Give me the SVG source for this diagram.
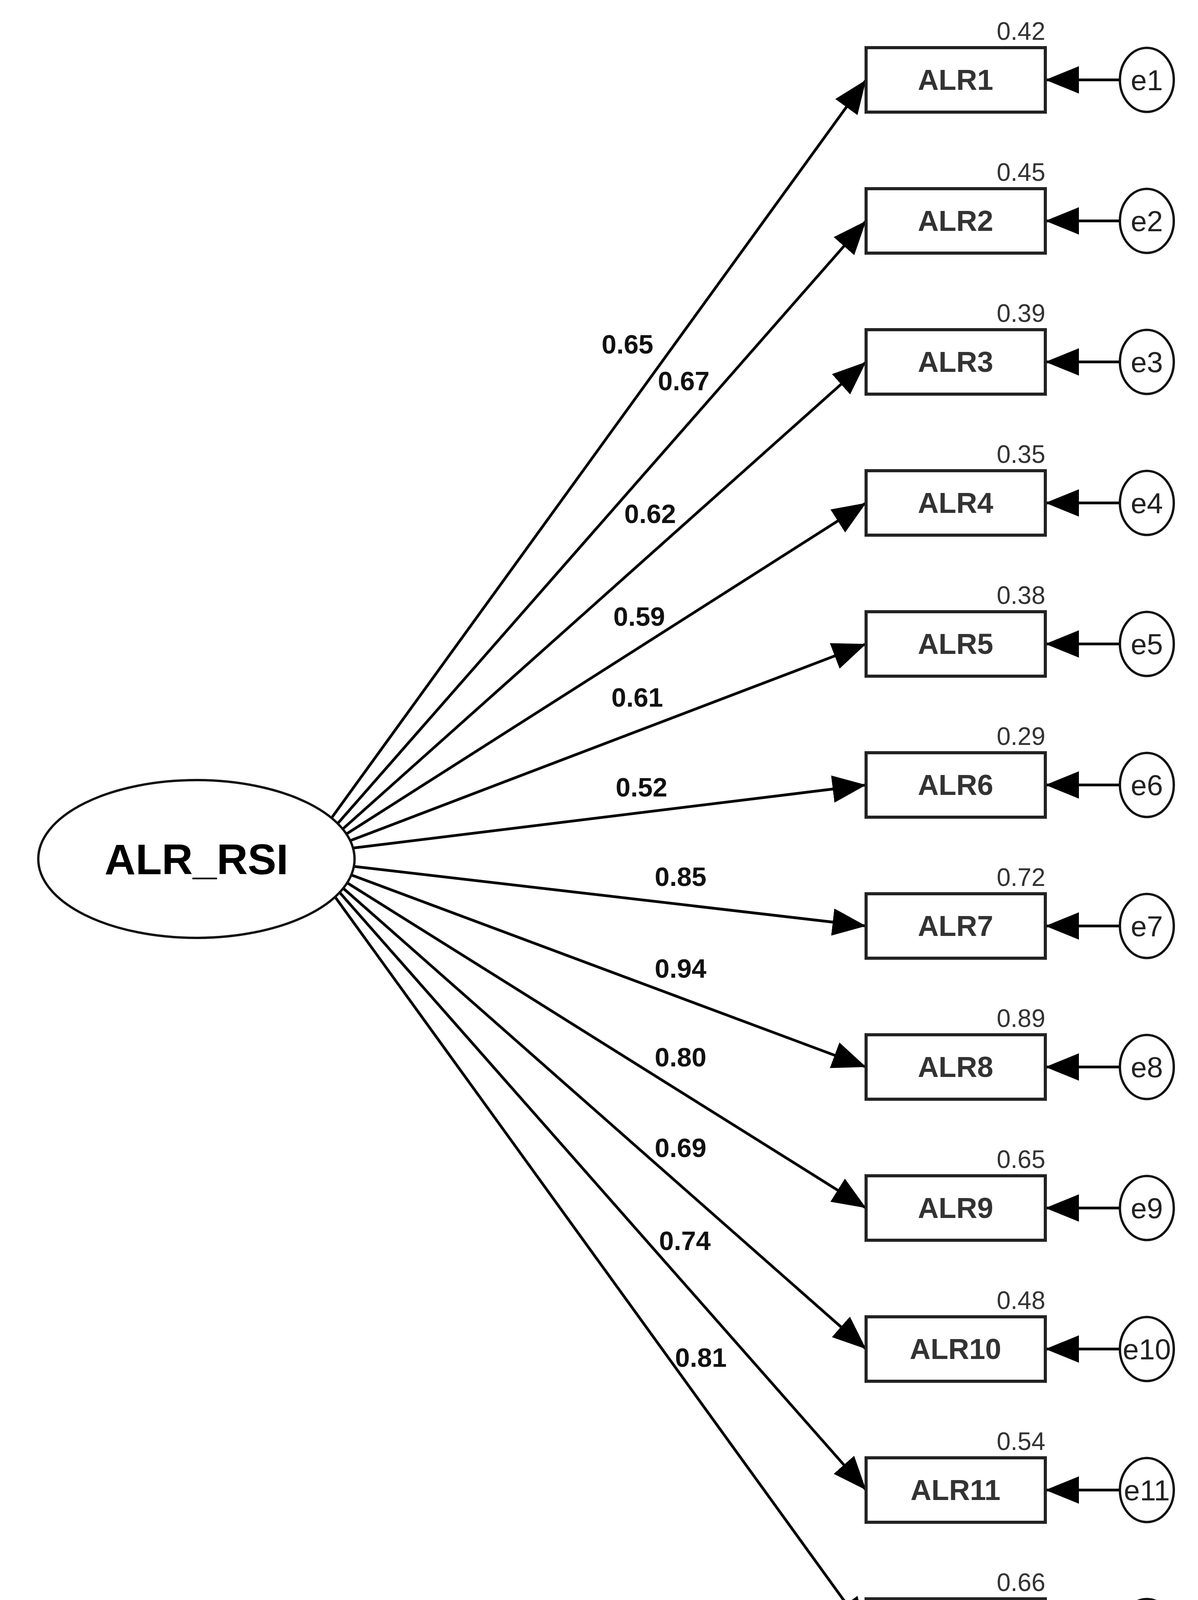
<svg xmlns="http://www.w3.org/2000/svg" width="3068" height="4297" viewBox="0 0 3068 4297">
<style>
.ln{stroke:#000;stroke-width:7;fill:none}
.bx{fill:#fff;stroke:#222;stroke-width:8}
.el{fill:#fff;stroke:#111;stroke-width:6}
.bt{font-family:"Liberation Sans",Arial,sans-serif;font-weight:bold;font-size:74px;fill:#333;text-anchor:middle}
.vt{font-family:"Liberation Sans",Arial,sans-serif;font-size:64px;fill:#333;text-anchor:end}
.et{font-family:"Liberation Sans",Arial,sans-serif;font-size:74px;fill:#222;text-anchor:middle}
.pt{font-family:"Liberation Sans",Arial,sans-serif;font-weight:bold;font-size:68px;fill:#111;text-anchor:middle}
</style>
<defs>
<marker id="ah" markerUnits="userSpaceOnUse" markerWidth="90" markerHeight="80" viewBox="0 0 90 80" refX="86" refY="40" orient="auto"><path d="M0,5 L86,40 L0,75 Z" fill="#000"/></marker>
</defs>
<g id="connectors">
<line class="ln" x1="849" y1="2094" x2="2218" y2="204.5" marker-end="url(#ah)"/>
<line class="ln" x1="865" y1="2108" x2="2218" y2="565.5" marker-end="url(#ah)"/>
<line class="ln" x1="878" y1="2122" x2="2218" y2="926.5" marker-end="url(#ah)"/>
<line class="ln" x1="887" y1="2135" x2="2218" y2="1287.5" marker-end="url(#ah)"/>
<line class="ln" x1="897" y1="2152" x2="2218" y2="1648.5" marker-end="url(#ah)"/>
<line class="ln" x1="904" y1="2171" x2="2218" y2="2009.5" marker-end="url(#ah)"/>
<line class="ln" x1="906" y1="2218" x2="2218" y2="2370.5" marker-end="url(#ah)"/>
<line class="ln" x1="900" y1="2240" x2="2218" y2="2731.5" marker-end="url(#ah)"/>
<line class="ln" x1="889" y1="2260" x2="2218" y2="3092.5" marker-end="url(#ah)"/>
<line class="ln" x1="879" y1="2274" x2="2218" y2="3453.5" marker-end="url(#ah)"/>
<line class="ln" x1="870" y1="2285" x2="2218" y2="3814.5" marker-end="url(#ah)"/>
<line class="ln" x1="858" y1="2296" x2="2218" y2="4175.5" marker-end="url(#ah)"/>
<line class="ln" x1="2868" y1="204.5" x2="2677" y2="204.5" marker-end="url(#ah)"/>
<line class="ln" x1="2868" y1="565.5" x2="2677" y2="565.5" marker-end="url(#ah)"/>
<line class="ln" x1="2868" y1="926.5" x2="2677" y2="926.5" marker-end="url(#ah)"/>
<line class="ln" x1="2868" y1="1287.5" x2="2677" y2="1287.5" marker-end="url(#ah)"/>
<line class="ln" x1="2868" y1="1648.5" x2="2677" y2="1648.5" marker-end="url(#ah)"/>
<line class="ln" x1="2868" y1="2009.5" x2="2677" y2="2009.5" marker-end="url(#ah)"/>
<line class="ln" x1="2868" y1="2370.5" x2="2677" y2="2370.5" marker-end="url(#ah)"/>
<line class="ln" x1="2868" y1="2731.5" x2="2677" y2="2731.5" marker-end="url(#ah)"/>
<line class="ln" x1="2868" y1="3092.5" x2="2677" y2="3092.5" marker-end="url(#ah)"/>
<line class="ln" x1="2868" y1="3453.5" x2="2677" y2="3453.5" marker-end="url(#ah)"/>
<line class="ln" x1="2868" y1="3814.5" x2="2677" y2="3814.5" marker-end="url(#ah)"/>
<line class="ln" x1="2868" y1="4175.5" x2="2677" y2="4175.5" marker-end="url(#ah)"/>
<text class="pt" x="1607" y="905">0.65</text>
<text class="pt" x="1751" y="999">0.67</text>
<text class="pt" x="1665" y="1339">0.62</text>
<text class="pt" x="1637" y="1602">0.59</text>
<text class="pt" x="1632" y="1809">0.61</text>
<text class="pt" x="1643" y="2039">0.52</text>
<text class="pt" x="1743" y="2268">0.85</text>
<text class="pt" x="1743" y="2503">0.94</text>
<text class="pt" x="1743" y="2730">0.80</text>
<text class="pt" x="1743" y="2962">0.69</text>
<text class="pt" x="1754" y="3200">0.74</text>
<text class="pt" x="1795" y="3499">0.81</text>
</g>
<g id="ALR_RSI"><ellipse class="el" cx="503" cy="2199" rx="405" ry="202"/><text x="503" y="2238" font-family="Liberation Sans,Arial,sans-serif" font-weight="bold" font-size="110" text-anchor="middle" fill="#000">ALR_RSI</text></g>
<g id="ALR1"><rect class="bx" x="2218" y="122" width="459" height="165"/><text class="bt" x="2447" y="230">ALR1</text><text class="vt" x="2677" y="102">0.42</text></g>
<g id="ALR2"><rect class="bx" x="2218" y="483" width="459" height="165"/><text class="bt" x="2447" y="591">ALR2</text><text class="vt" x="2677" y="463">0.45</text></g>
<g id="ALR3"><rect class="bx" x="2218" y="844" width="459" height="165"/><text class="bt" x="2447" y="952">ALR3</text><text class="vt" x="2677" y="824">0.39</text></g>
<g id="ALR4"><rect class="bx" x="2218" y="1205" width="459" height="165"/><text class="bt" x="2447" y="1313">ALR4</text><text class="vt" x="2677" y="1185">0.35</text></g>
<g id="ALR5"><rect class="bx" x="2218" y="1566" width="459" height="165"/><text class="bt" x="2447" y="1674">ALR5</text><text class="vt" x="2677" y="1546">0.38</text></g>
<g id="ALR6"><rect class="bx" x="2218" y="1927" width="459" height="165"/><text class="bt" x="2447" y="2035">ALR6</text><text class="vt" x="2677" y="1907">0.29</text></g>
<g id="ALR7"><rect class="bx" x="2218" y="2288" width="459" height="165"/><text class="bt" x="2447" y="2396">ALR7</text><text class="vt" x="2677" y="2268">0.72</text></g>
<g id="ALR8"><rect class="bx" x="2218" y="2649" width="459" height="165"/><text class="bt" x="2447" y="2757">ALR8</text><text class="vt" x="2677" y="2629">0.89</text></g>
<g id="ALR9"><rect class="bx" x="2218" y="3010" width="459" height="165"/><text class="bt" x="2447" y="3118">ALR9</text><text class="vt" x="2677" y="2990">0.65</text></g>
<g id="ALR10"><rect class="bx" x="2218" y="3371" width="459" height="165"/><text class="bt" x="2447" y="3479">ALR10</text><text class="vt" x="2677" y="3351">0.48</text></g>
<g id="ALR11"><rect class="bx" x="2218" y="3732" width="459" height="165"/><text class="bt" x="2447" y="3840">ALR11</text><text class="vt" x="2677" y="3712">0.54</text></g>
<g id="ALR12"><rect class="bx" x="2218" y="4093" width="459" height="165"/><text class="bt" x="2447" y="4201">ALR12</text><text class="vt" x="2677" y="4073">0.66</text></g>
<g id="e1"><ellipse class="el" cx="2937" cy="204.5" rx="69" ry="82"/><text class="et" x="2937" y="231">e1</text></g>
<g id="e2"><ellipse class="el" cx="2937" cy="565.5" rx="69" ry="82"/><text class="et" x="2937" y="592">e2</text></g>
<g id="e3"><ellipse class="el" cx="2937" cy="926.5" rx="69" ry="82"/><text class="et" x="2937" y="953">e3</text></g>
<g id="e4"><ellipse class="el" cx="2937" cy="1287.5" rx="69" ry="82"/><text class="et" x="2937" y="1314">e4</text></g>
<g id="e5"><ellipse class="el" cx="2937" cy="1648.5" rx="69" ry="82"/><text class="et" x="2937" y="1675">e5</text></g>
<g id="e6"><ellipse class="el" cx="2937" cy="2009.5" rx="69" ry="82"/><text class="et" x="2937" y="2036">e6</text></g>
<g id="e7"><ellipse class="el" cx="2937" cy="2370.5" rx="69" ry="82"/><text class="et" x="2937" y="2397">e7</text></g>
<g id="e8"><ellipse class="el" cx="2937" cy="2731.5" rx="69" ry="82"/><text class="et" x="2937" y="2758">e8</text></g>
<g id="e9"><ellipse class="el" cx="2937" cy="3092.5" rx="69" ry="82"/><text class="et" x="2937" y="3119">e9</text></g>
<g id="e10"><ellipse class="el" cx="2937" cy="3453.5" rx="69" ry="82"/><text class="et" x="2937" y="3480">e10</text></g>
<g id="e11"><ellipse class="el" cx="2937" cy="3814.5" rx="69" ry="82"/><text class="et" x="2937" y="3841">e11</text></g>
<g id="e12"><ellipse class="el" cx="2937" cy="4175.5" rx="69" ry="82"/><text class="et" x="2937" y="4202">e12</text></g>
</svg>
